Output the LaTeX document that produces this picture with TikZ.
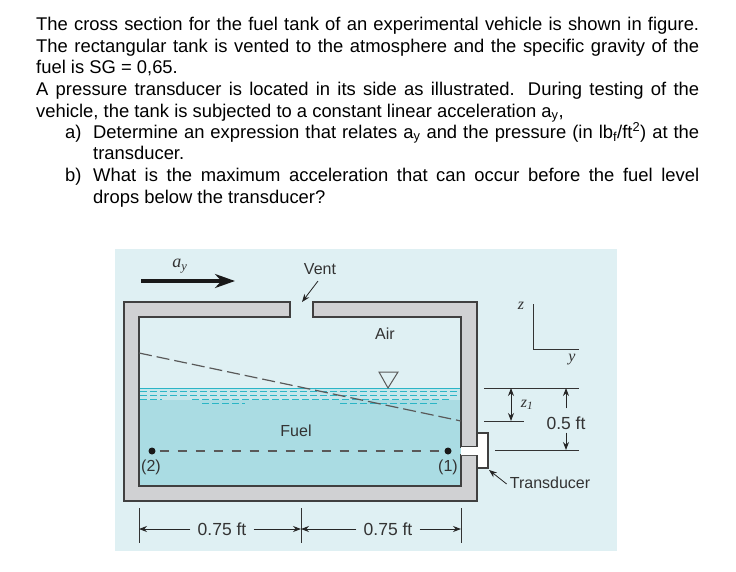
\documentclass[tikz,border=0pt]{standalone}
\usepackage{fontspec}
\setmainfont{Liberation Sans}
\newfontfamily\symbfont{Liberation Serif}
\usetikzlibrary{calc,arrows.meta}
\definecolor{panelbg}{HTML}{DFF0F3}
\definecolor{fuelfill}{HTML}{AADCE3}
\definecolor{fuelline}{HTML}{2BB5C6}
\definecolor{wallfill}{HTML}{D0D1D3}
\newcommand{\bodyline}[2]{\makebox[#1pt][s]{#2}}

\begin{document}
\begin{tikzpicture}[x=1pt,y=-1pt,>={Stealth[length=8pt,width=6pt]},
    textline/.style={anchor=base west,inner sep=0pt,font=\fontsize{18.4}{21}\selectfont},
    label/.style={inner sep=0pt,text=black!80,font=\fontsize{16}{19}\selectfont},
    dimlabel/.style={inner sep=7pt,text=black!80,font=\fontsize{17.5}{19}\selectfont},
    mathlabel/.style={inner sep=0pt,text=black!80,font=\symbfont\itshape\fontsize{16}{16}\selectfont},
    wall/.style={fill=wallfill,draw=black!75,line width=1.1pt},
    thinline/.style={draw=black!80,line width=0.9pt},
    dimline/.style={->,draw=black!85,line width=0.8pt},
    fueldash/.style={draw=fuelline,line width=0.9pt,dash pattern=on 7pt off 3pt},
    slopedash/.style={draw=black!65,line width=1.2pt,dash pattern=on 13pt off 5pt},
    leveldash/.style={draw=black!65,line width=1.2pt,dash pattern=on 9pt off 9pt},
    dot/.style={circle,fill=black!90,inner sep=0pt,minimum size=7pt}]
    \useasboundingbox (0,0) rectangle (736,571);

    % question text
    \node (line1) at (36,30) [textline]{\bodyline{663}{The cross section for the fuel tank of an experimental vehicle is shown in figure.}};
    \node (line2) at (36,52) [textline]{\bodyline{663}{The rectangular tank is vented to the atmosphere and the specific gravity of the}};
    \node (line3) at (36,73) [textline]{fuel is SG = 0,65.};
    \node (line4) at (36,95) [textline]{\bodyline{663}{A pressure transducer is located in its side as illustrated. During testing of the}};
    \node (line5) at (36,117) [textline]{vehicle, the tank is subjected to a constant linear acceleration a\textsubscript{y},};
    \node (parta) at (65,138) [textline]{a)};
    \node (line6) at (93,138) [textline]{\bodyline{606}{Determine an expression that relates a\textsubscript{y} and the pressure (in lb\textsubscript{f}/ft\textsuperscript{2}) at the}};
    \node (line7) at (93,159) [textline]{transducer.};
    \node (partb) at (65,181) [textline]{b)};
    \node (line8) at (93,181) [textline]{\bodyline{606}{What is the maximum acceleration that can occur before the fuel level}};
    \node (line9) at (93,203) [textline]{drops below the transducer?};

    % panel, air and fuel
    \fill[panelbg] (115,249) rectangle (617,551);
    \fill[fuelfill] (139,388) rectangle (461,486);
    \fill[panelbg!50!fuelfill] (139,388) rectangle (461,400);
    \draw[fuelline,line width=1pt] (139,388) -- (461,388);
    \draw[fueldash] (140,391) -- (460,391);
    \draw[fueldash] (140,395) -- (460,395);
    \draw[fueldash] (140,399) -- (162,399) (192,399) -- (450,399);
    \draw[fueldash] (202,403) -- (245,403) (340,403) -- (440,403);

    % tank walls
    \draw[wall] (290,302) -- (124,302) -- (124,501) -- (477,501) -- (477,455) -- (461,455) -- (461,486) -- (139,486) -- (139,317) -- (290,317) -- cycle;
    \draw[wall] (313,302) -- (477,302) -- (477,447) -- (461,447) -- (461,317) -- (313,317) -- cycle;

    % transducer
    \fill[white] (461,447) -- (477,447) -- (477,433) -- (488,433) -- (488,468) -- (477,468) -- (477,455) -- (461,455) -- cycle;
    \draw[black!75,line width=1.1pt] (477,447) -- (477,433) -- (488,433) -- (488,468) -- (477,468) -- (477,455);

    % free surfaces
    \draw[slopedash] (139,353) -- (461,421);
    \node (two) at (152,451) [dot]{};
    \node (one) at (448,451) [dot]{};
    \draw[leveldash,shorten <=4pt] (two) -- (one);
    \draw[black!65,line width=1pt] (379,372) -- (398,372) -- (388,388) -- cycle;

    % labels inside
    \node (air) at (385,334) [label]{Air};
    \node (fuel) at (296,431) [label]{Fuel};
    \node (ptwo) at (151,467) [label]{(2)};
    \node (pone) at (448,467) [label]{(1)};

    % acceleration and vent
    \coordinate (accstart) at (141,281);
    \coordinate (accend) at (235,281);
    \draw[-{Stealth[length=20pt,width=14pt]},line width=3.5pt,black!90] (accstart) -- (accend);
    \node (ay) at (180,266) [mathlabel,font=\symbfont\itshape\fontsize{18}{18}\selectfont]{a\textsubscript{y}};
    \node (vent) at (320,269) [label]{Vent};
    \coordinate (venttail) at (318,281);
    \coordinate (ventgap) at (302,302);
    \draw[dimline] (venttail) -- (ventgap);

    % axes
    \coordinate (ztop) at (533,304);
    \coordinate (origin) at (533,349);
    \coordinate (yend) at (579,349);
    \draw[thinline,line width=1pt] (ztop) -- (origin) -- (yend);
    \node (zaxis) at (521,306) [mathlabel]{z};
    \node (yaxis) at (572,358) [mathlabel,anchor=center,yshift=-2pt]{y};

    % levels on the right
    \coordinate (surfa) at (484,388);
    \coordinate (surfb) at (579,388);
    \coordinate (slopea) at (484,421);
    \coordinate (slopeb) at (524,421);
    \coordinate (trana) at (495,450);
    \coordinate (tranb) at (579,450);
    \draw[thinline] (surfa) -- (surfb);
    \draw[thinline] (slopea) -- (slopeb);
    \draw[thinline] (trana) -- (tranb);
    \draw[<->,draw=black!85,line width=0.8pt] (511,388) -- (511,421);
    \node (zone) at (527,405) [mathlabel]{z\textsubscript{1}};
    \node (half) at (566,423) [dimlabel,inner sep=0pt]{0.5 ft};
    \draw[dimline] ($(half.north)+(0,-8)$) -- (566,388);
    \draw[dimline] ($(half.south)+(0,3)$) -- (566,450);

    % transducer label
    \node (trans) at (550,483) [label]{Transducer};
    \coordinate (transtip) at (489,470);
    \draw[dimline] ($(trans.west)+(-3,1)$) -- (transtip);

    % width dimensions
    \coordinate (ticka) at (139,529);
    \coordinate (tickb) at (301,529);
    \coordinate (tickc) at (461,529);
    \draw[thinline] (139,508) -- (139,543);
    \draw[thinline] (301,508) -- (301,543);
    \draw[thinline] (461,508) -- (461,543);
    \node (widtha) at (222,529) [dimlabel]{0.75 ft};
    \node (widthb) at (388,529) [dimlabel]{0.75 ft};
    \draw[dimline] (widtha) -- (ticka);
    \draw[dimline] (widtha) -- (tickb);
    \draw[dimline] (widthb) -- (tickb);
    \draw[dimline] (widthb) -- (tickc);
  \end{tikzpicture}
\end{document}
